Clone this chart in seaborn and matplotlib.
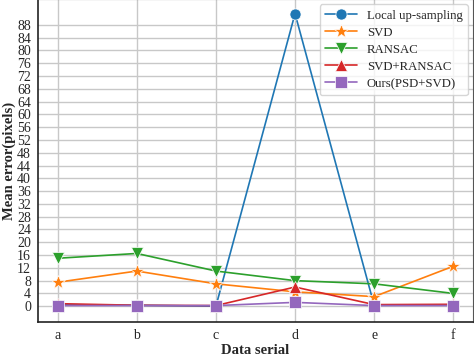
import numpy as np
import matplotlib.pyplot as plt
import pandas as pd
import seaborn as sns

serials = ['a', 'b', 'c', 'd', 'e', 'f']
local_up = [0.5, 0.3, 0.0, 91.5, 0.3, 0.4]
svd = [7.5, 11.0, 7.0, 4.5, 3.0, 12.5]
ransac = [15.0, 16.5, 11.0, 8.0, 7.0, 4.0]
svd_ransac = [0.8, 0.3, 0.2, 6.0, 0.5, 0.6]
ours = [0.2, 0.2, 0.2, 1.2, 0.2, 0.2]

methods = ['Local up-sampling', 'SVD', 'RANSAC', 'SVD+RANSAC', 'Ours(PSD+SVD)']
markers = ['o', '*', 'v', '^', 's']

df = pd.DataFrame({'serial': serials * 5,
                   'err': local_up + svd + ransac + svd_ransac + ours,
                   'method': np.repeat(methods, len(serials))})
df['x'] = df['serial'].map({s: i for i, s in enumerate(serials)})

sns.set_style('whitegrid')
plt.rcParams['font.family'] = ['Liberation Serif', 'DejaVu Serif']

fig = plt.figure(figsize=(4.74, 3.58), dpi=100)
ax = fig.add_axes([0.08, 0.1, 0.918, 0.902])

pal = sns.color_palette('tab10', 5)
sns.lineplot(data=df, x='x', y='err', hue='method', style='method',
             markers=markers, dashes=False, palette=pal, markersize=8,
             markeredgewidth=0.5, linewidth=1.2, ax=ax)

# stars look small next to the others
for ln in ax.lines:
    if ln.get_marker() == '*':
        ln.set_markersize(10)

ax.set_xlim(-0.25, 5.25)
ax.set_ylim(-5, 96)
ax.set_xticks(range(len(serials)))
ax.set_xticklabels(serials)
ax.set_yticks(np.arange(0, 89, 4))
ax.tick_params(labelsize=10, length=3, pad=2, direction='out', color='black')
ax.grid(color='#c8c8c8', linewidth=1)
for s in ['left', 'bottom']:
    ax.spines[s].set_color('#222222')
    ax.spines[s].set_linewidth(1.2)
for s in ['right', 'top']:
    ax.spines[s].set_color('#555555')

ax.set_xlabel('Data serial', fontweight='bold', fontsize=10.5, labelpad=1)
ax.set_ylabel('Mean error(pixels)', fontweight='bold', fontsize=10.5, labelpad=1)
leg = ax.legend(loc='upper right', fontsize=9.2, frameon=True,
                handlelength=2.5, labelspacing=0.4, borderaxespad=0.4)
leg.get_frame().set_edgecolor('#cccccc')

fig.savefig('out.png', dpi=100)
